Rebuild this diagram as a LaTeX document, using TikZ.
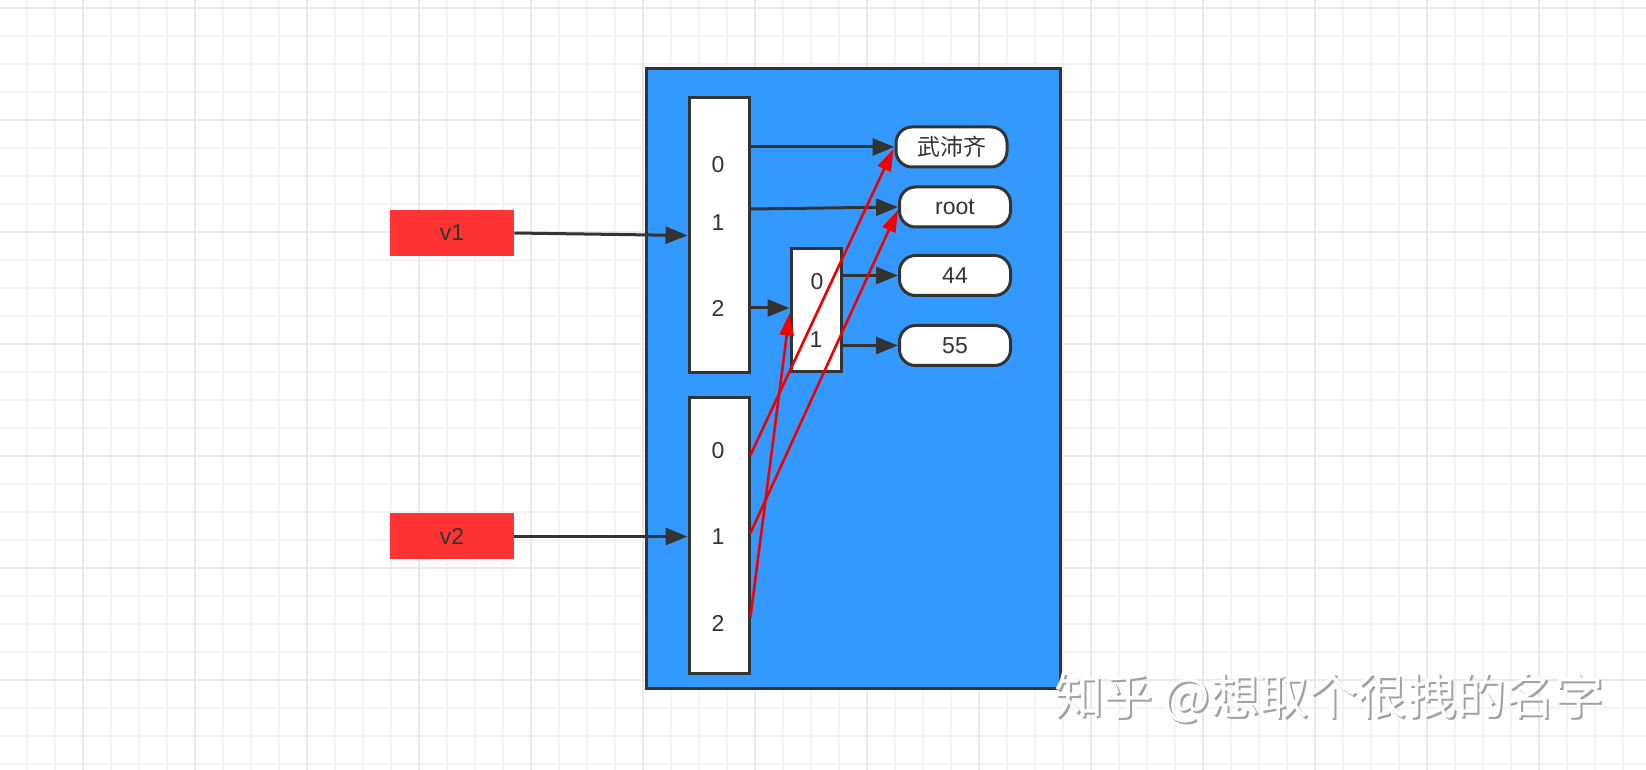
\documentclass[tikz,border=0pt]{standalone}
\usepackage{fontspec}
\setmainfont{Liberation Sans}
\newfontfamily\cjk{Noto Sans CJK SC}
\usetikzlibrary{arrows.meta,calc}
\definecolor{bluebg}{RGB}{51,153,255}
\definecolor{dark}{RGB}{51,51,51}
\definecolor{redbox}{RGB}{255,51,51}
\definecolor{redline}{RGB}{240,0,0}
\definecolor{gridminor}{RGB}{243,243,243}
\definecolor{gridmajor}{RGB}{232,232,232}
\definecolor{wmshadow}{RGB}{160,160,160}
\tikzset{
  panel/.style={draw=dark, line width=1.5pt, fill=bluebg, inner sep=0pt, minimum width=207pt, minimum height=310pt},
  cell/.style={draw=dark, line width=1.5pt, fill=white, inner sep=0pt},
  valbox/.style={draw=dark, line width=1.5pt, fill=white, inner sep=0pt, rounded corners=8pt,
    minimum width=55.5pt, minimum height=20pt, text=dark, font=\fontsize{11.5}{14}\selectfont},
  varbox/.style={fill=redbox, inner sep=0pt, minimum width=62pt, minimum height=23pt,
    text=dark, font=\fontsize{11.5}{14}\selectfont},
  lbl/.style={inner sep=0pt, text=dark, font=\fontsize{11.5}{14}\selectfont},
  darr/.style={draw=dark, line width=1.5pt, -{Triangle[length=11pt,width=8.5pt]}},
  rarr/.style={draw=redline, line width=1.3pt, -{Triangle[length=11pt,width=7pt]}},
}
\begin{document}
\begin{tikzpicture}[x=0.5pt,y=-0.5pt]
\useasboundingbox (0,0) rectangle (1646,770);
\fill[white] (0,0) rectangle (1646,770);
% grid
\foreach \k in {0,...,59} {
  \draw[gridminor, line width=0.8pt] ({-1+28*\k},0) -- ({-1+28*\k},770);
}
\foreach \k in {0,...,27} {
  \draw[gridminor, line width=0.8pt] (0,{8+28*\k}) -- (1646,{8+28*\k});
}
\foreach \k in {0,...,14} {
  \draw[gridmajor, line width=1pt] ({83+112*\k},0) -- ({83+112*\k},770);
}
\foreach \k in {0,...,6} {
  \draw[gridmajor, line width=1pt] (0,{8+112*\k}) -- (1646,{8+112*\k});
}
% panel
\node[panel] (P) at (853.5,378.5) {};
% arrays
\node[cell, minimum width=30pt, minimum height=137.5pt] (A) at (719,235.5) {};
\node[cell, minimum width=30pt, minimum height=137.5pt] (C) at (719,535.5) {};
\node[cell, minimum width=25pt, minimum height=61.5pt] (B) at (816,310.5) {};
\node[lbl] (A0) at (718,165) {0};
\node[lbl] (A1) at (718,223) {1};
\node[lbl] (A2) at (718,308) {2};
\node[lbl] (C0) at (718,451) {0};
\node[lbl] (C1) at (718,537) {1};
\node[lbl] (C2) at (718,623) {2};
\node[lbl] (B0) at (817,282) {0};
\node[lbl] (B1) at (816,340) {1};
% values
\node[valbox] (n0) at (951.5,147) {\cjk 武沛齐};
\node[valbox] (n1) at (955,207) {root};
\node[valbox] (n2) at (955,275.5) {44};
\node[valbox] (n3) at (955,345.5) {55};
% variables
\node[varbox] (v1) at (452,233) {v1};
\node[varbox] (v2) at (452,536.5) {v2};
% dark arrows
\draw[darr] (v1.east) -- (A.west);
\draw[darr] (v2.east) -- (v2.east -| C.west);
\draw[darr] (A.east |- n0.west) -- (n0.west);
\draw[darr] ($(A.east)+(0,-26.5)$) -- (n1.west);
\draw[darr] (A2 -| A.east) -- (A2 -| B.west);
\draw[darr] (B.east |- n2.west) -- (n2.west);
\draw[darr] (B.east |- n3.west) -- (n3.west);
% red arrows
\draw[rarr] ($(C.east)+(0,-80.5)$) -- ($(n0.west)+(-1,2)$);
\draw[rarr] ($(C.east)+(0,-2.5)$) -- ($(n1.west)+(0,3)$);
\draw[rarr] ($(C.east)+(0,81.5)$) -- ($(B.west)+(0,3)$);
% watermark
\node[anchor=west, inner sep=0pt, text=wmshadow] (wms) at (1056,700) {\cjk\fontsize{24.6}{28}\selectfont 知乎 @想取个很拽的名字};
\node[anchor=west, inner sep=0pt, text=white] (wm) at (1054,698) {\cjk\fontsize{24.6}{28}\selectfont 知乎 @想取个很拽的名字};
\end{tikzpicture}
\end{document}
